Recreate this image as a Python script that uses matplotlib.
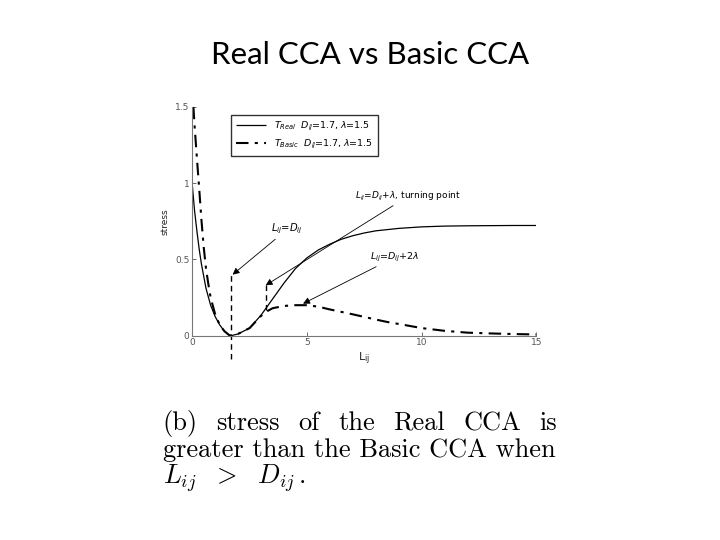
import matplotlib
matplotlib.use("Agg")
import matplotlib.pyplot as plt
import numpy as np

# ---- data ----
real_x = [0.0, 0.1, 0.2, 0.3, 0.4, 0.5, 0.6, 0.8, 1.0, 1.2, 1.4, 1.6, 1.7,
          2.0, 2.5, 3.0, 3.5, 4.0, 4.5, 5.0, 5.5, 6.0, 6.5, 7.0, 7.5, 8.0,
          9.0, 10.0, 11.0, 12.0, 13.0, 14.0, 15.0]
real_y = [0.99, 0.82, 0.69, 0.57, 0.47, 0.39, 0.31, 0.20, 0.125, 0.07, 0.03, 0.005, 0.0,
          0.012, 0.05, 0.135, 0.24, 0.345, 0.44, 0.51, 0.562, 0.6, 0.632, 0.655, 0.673, 0.687,
          0.703, 0.713, 0.718, 0.72, 0.721, 0.722, 0.722]

basic_x = [0.05, 0.1, 0.2, 0.3, 0.4, 0.5, 0.6, 0.7, 0.8, 1.0, 1.2, 1.4, 1.6, 1.7,
           2.0, 2.5, 3.0, 3.2, 3.5, 4.0, 4.5, 5.0, 5.5, 6.0, 6.5, 7.0, 7.5, 8.0,
           8.5, 9.0, 10.0, 11.0, 12.0, 13.0, 14.0, 15.0]
basic_y = [1.5, 1.38, 1.17, 0.97, 0.76, 0.58, 0.44, 0.34, 0.25, 0.14, 0.07, 0.03, 0.005, 0.0,
           0.012, 0.05, 0.13, 0.155, 0.18, 0.195, 0.2, 0.2, 0.19, 0.172, 0.156, 0.14, 0.123, 0.106,
           0.09, 0.077, 0.05, 0.032, 0.02, 0.015, 0.011, 0.008]

x_ticks = [0, 5, 10, 15]
y_ticks = [0, 0.5, 1, 1.5]
y_tick_labels = ["0", "0.5", "1", "1.5"]

D_ij = 1.7
turning = 3.2
marker_lines = [(D_ij, -0.15, 0.40), (turning, 0.17, 0.36)]

legend_labels = [r"$T_{Real}$  $D_{ij}$=1.7, $\lambda$=1.5",
                 r"$T_{Basic}$  $D_{ij}$=1.7, $\lambda$=1.5"]

fig = plt.figure(figsize=(7.2, 5.4), dpi=100)
fig.patch.set_facecolor("white")

fig.text(0.514, 0.898, "Real CCA vs Basic CCA", ha="center", va="center",
         fontsize=22.5, family="Lato", color="black")

ax = fig.add_axes([0.267, 0.3783, 0.478, 0.4241])
ax.plot(real_x, real_y, color="black", lw=0.9, solid_capstyle="butt")
ax.plot(basic_x, basic_y, color="black", lw=1.5, linestyle=(0, (6, 3, 1.5, 3)))

for xv, y0, y1 in marker_lines:
    ax.plot([xv, xv], [y0, y1], color="black", lw=1.0, linestyle=(0, (4, 3)),
            clip_on=False)

ax.set_xlim(0, 15)
ax.set_ylim(0, 1.5)
ax.set_xticks(x_ticks)
ax.set_yticks(y_ticks)
ax.set_yticklabels(y_tick_labels)
ax.tick_params(direction="in", length=3, width=0.6, labelsize=6.5,
               colors="#555555", pad=2)
for s in ["top", "right"]:
    ax.spines[s].set_visible(False)
for s in ["left", "bottom"]:
    ax.spines[s].set_color("#777777")
    ax.spines[s].set_linewidth(0.8)

ax.set_xlabel(r"$\mathregular{L_{ij}}$", fontsize=8, labelpad=2, color="#222222")
ax.set_ylabel("stress", fontsize=6.5, labelpad=4, color="#222222")

leg = ax.legend(legend_labels, loc="upper left", bbox_to_anchor=(0.112, 0.964),
                borderaxespad=0, fontsize=6.8, frameon=True, fancybox=False,
                handlelength=3.2, borderpad=0.55, labelspacing=0.5)
leg.get_frame().set_edgecolor("black")
leg.get_frame().set_linewidth(1.0)

arrowprops = dict(arrowstyle="-|>", color="black", lw=0.6, mutation_scale=10,
                  shrinkA=0, shrinkB=0)
ax.annotate(r"$L_{ij}$=$D_{ij}$", xy=(1.76, 0.40), xytext=(3.45, 0.65),
            fontsize=7.2, arrowprops=arrowprops, ha="left", va="bottom")
ax.annotate(r"$L_{ij}$=$D_{ij}$+$\lambda$, turning point", xy=(3.2, 0.33),
            xytext=(7.1, 0.87), fontsize=6.5, arrowprops=arrowprops,
            ha="left", va="bottom")
ax.annotate(r"$L_{ij}$=$D_{ij}$+2$\lambda$", xy=(4.83, 0.21), xytext=(7.75, 0.47),
            fontsize=6.8, arrowprops=arrowprops, ha="left", va="bottom")

# caption
plt.rcParams["mathtext.fontset"] = "cm"
cap_size = 19
cap_font = dict(family="cmr10", fontsize=cap_size, color="black")
line1 = ["(b)", "stress", "of", "the", "Real", "CCA", "is"]
x0, x1 = 0.226, 0.774
renderer = fig.canvas.get_renderer()
texts = [fig.text(0, 0, w, **cap_font) for w in line1]
widths = [t.get_window_extent(renderer).width / fig.bbox.width for t in texts]
gap = (x1 - x0 - sum(widths)) / (len(line1) - 1)
xpos = x0
for t, w in zip(texts, widths):
    t.set_position((xpos, 0.203))
    t.set_va("baseline")
    xpos += w + gap
fig.text(x0, 0.153, "greater than the Basic CCA when", va="baseline", **cap_font)
fig.text(x0, 0.105, r"$L_{ij}\ \ >\ \ D_{ij}\,$.", va="baseline", fontsize=cap_size,
         family="cmr10", math_fontfamily="cm")

fig.savefig("out.png", dpi=100, facecolor="white")
